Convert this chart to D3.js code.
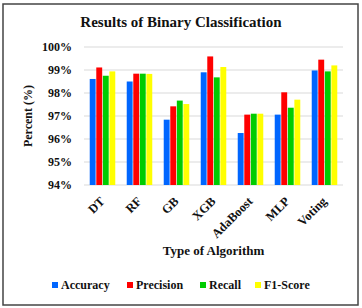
<!DOCTYPE html>
<html>
<head>
<meta charset="utf-8">
<script src="https://cdn.jsdelivr.net/npm/d3@7"></script>
<style>
  body { margin: 0; background: #fff; }
  text { font-family: "Liberation Serif", "Times New Roman", serif; font-weight: bold; fill: #111; }
</style>
</head>
<body>
<div id="chart"></div>
<script>
const algorithms = ["DT", "RF", "GB", "XGB", "AdaBoost", "MLP", "Voting"];
const metrics = ["Accuracy", "Precision", "Recall", "F1-Score"];
const accuracy  = [98.61, 98.50, 96.84, 98.90, 96.26, 97.06, 98.98];
const precision = [99.11, 98.84, 97.42, 99.59, 97.06, 98.03, 99.45];
const recall    = [98.75, 98.84, 97.67, 98.68, 97.10, 97.36, 98.94];
const f1score   = [98.94, 98.83, 97.52, 99.13, 97.10, 97.71, 99.20];
const yTicks = [94, 95, 96, 97, 98, 99, 100];
const colors = ["#0066FF", "#FF0000", "#00CC00", "#FFFF00"];

const series = [accuracy, precision, recall, f1score];
const rows = algorithms.map((a, i) => ({
    name: a,
    values: metrics.map((m, j) => ({metric: m, value: series[j][i]}))
}));

const width = 362, height = 308;
const svg = d3.select("#chart").append("svg")
    .attr("width", width)
    .attr("height", height);

// outer frame
svg.append("rect")
    .attr("x", 3).attr("y", 4)
    .attr("width", 355).attr("height", 301)
    .attr("fill", "none")
    .attr("stroke", "#444")
    .attr("stroke-width", 1.5);

const x0 = d3.scaleBand()
    .domain(algorithms)
    .range([84, 343])
    .paddingInner(0.31)
    .paddingOuter(0.155);

const x1 = d3.scaleBand()
    .domain(metrics)
    .range([0, x0.bandwidth()])
    .paddingInner(0.1);

const y = d3.scaleLinear()
    .domain([94, 100])
    .range([185, 47]);

const color = d3.scaleOrdinal().domain(metrics).range(colors);

// gridlines
svg.append("g")
    .selectAll("line")
    .data(yTicks)
    .enter().append("line")
    .attr("x1", 84).attr("x2", 343)
    .attr("y1", d => y(d)).attr("y2", d => y(d))
    .attr("stroke", "#d9d9d9")
    .attr("stroke-width", 1);

// y labels
svg.append("g")
    .selectAll("text")
    .data(yTicks)
    .enter().append("text")
    .attr("x", 72)
    .attr("y", d => y(d))
    .attr("dy", "0.35em")
    .attr("text-anchor", "end")
    .style("font-size", "12px")
    .text(d => d + "%");

// bars
const groups = svg.append("g")
    .selectAll("g")
    .data(rows)
    .enter().append("g")
    .attr("transform", d => `translate(${x0(d.name)},0)`);

groups.selectAll("rect")
    .data(d => d.values)
    .enter().append("rect")
    .attr("x", d => x1(d.metric))
    .attr("y", d => y(d.value))
    .attr("width", x1.bandwidth())
    .attr("height", d => y(94) - y(d.value))
    .attr("fill", d => color(d.metric));

// x labels
svg.append("g")
    .selectAll("text")
    .data(algorithms)
    .enter().append("text")
    .attr("text-anchor", "end")
    .attr("transform", d => `translate(${x0(d) + x0.bandwidth() / 2 + 3},${202}) rotate(-45)`)
    .style("font-size", "12.5px")
    .text(d => d);

// titles
svg.append("text")
    .attr("x", 181).attr("y", 27)
    .attr("text-anchor", "middle")
    .style("font-size", "15px")
    .text("Results of Binary Classification");

svg.append("text")
    .attr("transform", "translate(32,116) rotate(-90)")
    .attr("text-anchor", "middle")
    .style("font-size", "12px")
    .text("Percent (%)");

svg.append("text")
    .attr("x", 213.5).attr("y", 255)
    .attr("text-anchor", "middle")
    .style("font-size", "13px")
    .text("Type of Algorithm");

// legend
const legendX = [52, 127, 200, 255];
const legend = svg.append("g")
    .selectAll("g")
    .data(metrics)
    .enter().append("g")
    .attr("transform", (d, i) => `translate(${legendX[i]},282)`);

legend.append("rect")
    .attr("width", 6).attr("height", 6)
    .attr("fill", d => color(d));

legend.append("text")
    .attr("x", 9).attr("y", 3)
    .attr("dy", "0.35em")
    .style("font-size", "12px")
    .text(d => d);
</script>
</body>
</html>
